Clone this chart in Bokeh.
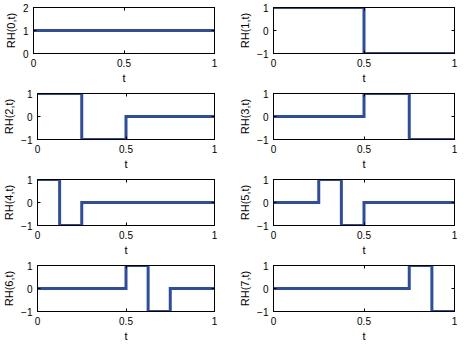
from bokeh.plotting import figure
from bokeh.layouts import column, row
from bokeh.models import Range1d, FixedTicker, LinearAxis
from bokeh.embed import file_html
from bokeh.resources import INLINE

# ---- data ----
labels = ["RH(0,t)", "RH(1,t)", "RH(2,t)", "RH(3,t)",
          "RH(4,t)", "RH(5,t)", "RH(6,t)", "RH(7,t)"]
rh0_t = [0, 1];                       rh0_v = [1, 1]
rh1_t = [0, 0.5, 1];                  rh1_v = [1, -1, -1]
rh2_t = [0, 0.25, 0.5, 1];            rh2_v = [1, -1, 0, 0]
rh3_t = [0, 0.5, 0.75, 1];            rh3_v = [0, 1, -1, -1]
rh4_t = [0, 0.125, 0.25, 1];          rh4_v = [1, -1, 0, 0]
rh5_t = [0, 0.25, 0.375, 0.5, 1];     rh5_v = [0, 1, -1, 0, 0]
rh6_t = [0, 0.5, 0.625, 0.75, 1];     rh6_v = [0, 1, -1, 0, 0]
rh7_t = [0, 0.75, 0.875, 1];          rh7_v = [0, 1, -1, -1]
series_t = [rh0_t, rh1_t, rh2_t, rh3_t, rh4_t, rh5_t, rh6_t, rh7_t]
series_v = [rh0_v, rh1_v, rh2_v, rh3_v, rh4_v, rh5_v, rh6_v, rh7_v]
y_limits = [(0, 2)] + [(-1, 1)] * 7
y_ticks_first = [0, 1, 2]
y_ticks_other = [-1, 0, 1]
y_tick_labels_first = ["0", "1", "2"]
y_tick_labels_other = ["\u22121", "0", "1"]
x_ticks = [0, 0.5, 1]
x_tick_labels = ["0", "0.5", "1"]
x_label = "t"

LINE_COLOR = "#2d4da3"
FONT = "Liberation Sans"


def make(i):
    left_col = (i % 2 == 0)
    if left_col:
        bl, br = 33, 15
    else:
        bl, br = 44, 4
    ylo, yhi = y_limits[i]
    yt = y_ticks_first if i == 0 else y_ticks_other
    ytl = y_tick_labels_first if i == 0 else y_tick_labels_other
    p = figure(width=229, height=86, output_backend="svg", toolbar_location=None,
               x_range=Range1d(0, 1), y_range=Range1d(ylo, yhi),
               min_border_left=bl, min_border_right=br,
               min_border_top=7, min_border_bottom=32)
    p.grid.visible = False
    p.outline_line_color = "black"
    p.outline_line_width = 1
    p.background_fill_color = "white"
    p.border_fill_color = "white"

    for ax, ticks, tl, lab in ((p.xaxis[0], x_ticks, x_tick_labels, x_label),
                               (p.yaxis[0], yt, ytl, labels[i])):
        ax.ticker = FixedTicker(ticks=ticks)
        ax.major_label_overrides = {t: s for t, s in zip(ticks, tl)}
        ax.axis_label = lab
        ax.axis_label_text_font = FONT
        ax.axis_label_text_font_size = "11px"
        ax.axis_label_text_font_style = "normal"
        ax.axis_label_text_color = "black"
        ax.major_label_text_font = FONT
        ax.major_label_text_font_size = "10px"
        ax.major_label_text_color = "black"
        ax.major_tick_in = 3
        ax.major_tick_out = 0
        ax.minor_tick_line_color = None
        ax.axis_line_color = "black"
        ax.major_tick_line_color = "black"
    p.xaxis[0].major_label_standoff = 5
    p.xaxis[0].axis_label_standoff = 2
    p.yaxis[0].major_label_standoff = 5
    p.yaxis[0].axis_label_standoff = 3

    # mirrored tick marks on top and right (no labels)
    top = LinearAxis(ticker=FixedTicker(ticks=x_ticks),
                     major_label_overrides={t: "" for t in x_ticks},
                     major_label_text_font_size="1px",
                     major_label_standoff=0, major_tick_in=3, major_tick_out=0,
                     minor_tick_line_color=None, axis_line_color="black")
    right = LinearAxis(ticker=FixedTicker(ticks=yt),
                       major_label_overrides={t: "" for t in yt},
                       major_label_text_font_size="1px",
                       major_label_standoff=0, major_tick_in=3, major_tick_out=0,
                       minor_tick_line_color=None, axis_line_color="black")
    p.add_layout(top, "above")
    p.add_layout(right, "right")

    p.step(series_t[i], series_v[i], mode="after", line_width=3,
           line_color=LINE_COLOR, line_join="miter")
    return p


figs = [make(i) for i in range(8)]
layout = column(*[row(figs[2 * r], figs[2 * r + 1]) for r in range(4)])

with open("out.html", "w") as f:
    f.write(file_html(layout, INLINE))
